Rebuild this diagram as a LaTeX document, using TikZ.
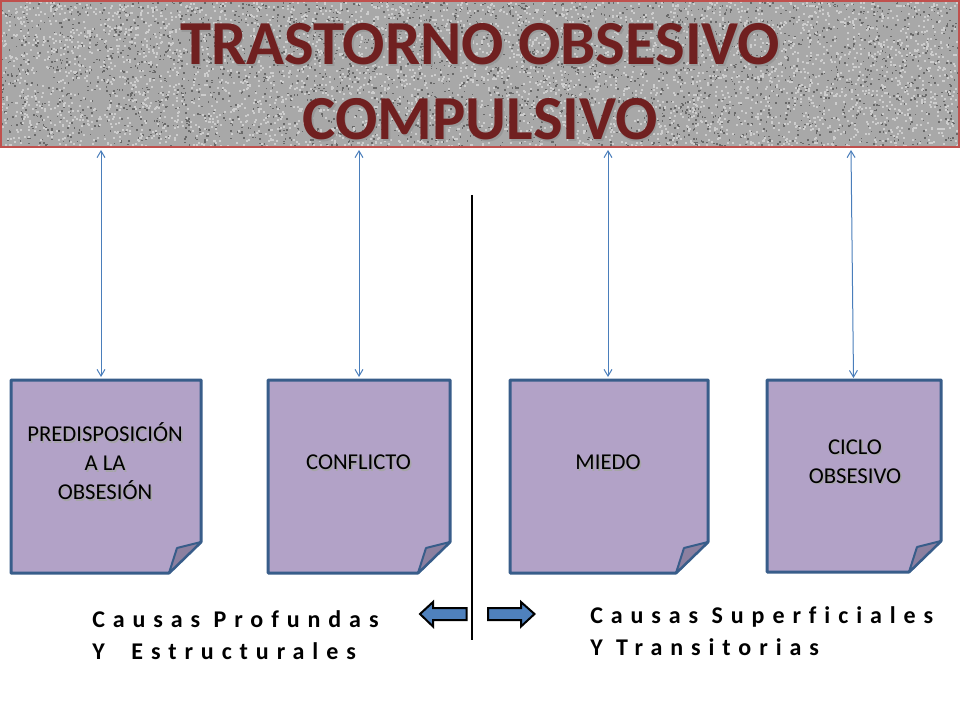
\documentclass[tikz,border=0pt]{standalone}
\usepackage{fontspec}
\setmainfont{Carlito}
\usetikzlibrary{arrows.meta}
\definecolor{bannergray}{RGB}{168,168,168}
\definecolor{noisedark}{RGB}{105,105,105}
\definecolor{noiselight}{RGB}{205,205,205}
\definecolor{bannerred}{RGB}{192,80,77}
\definecolor{titlered}{RGB}{112,32,32}
\definecolor{boxfill}{RGB}{178,162,199}
\definecolor{flapfill}{RGB}{140,128,160}
\definecolor{boxline}{RGB}{56,93,138}
\definecolor{linkblue}{RGB}{74,126,187}
\definecolor{arrowblue}{RGB}{79,129,189}
\newcommand\shdbox[1]{\leavevmode\rlap{\kern1.1pt\raisebox{-1.1pt}{\textcolor{black!35}{#1}}}#1}
\newcommand\shdtitle[1]{\leavevmode\rlap{\kern1.3pt\raisebox{-1.3pt}{\textcolor{black!40}{#1}}}#1}
\tikzset{
  boxarea/.style={inner sep=0pt,outer sep=0pt},
  boxshape/.style={fill=boxfill,draw=boxline,line width=2.25pt,line join=round},
  flapshape/.style={fill=flapfill,draw=boxline,line width=1.5pt,line join=round},
  boxtext/.style={font=\fontsize{17pt}{21.75pt}\selectfont,align=center,text=black,inner sep=0pt},
  link/.style={draw=linkblue,line width=0.75pt,{Straight Barb[length=5pt,width=6pt]}-{Straight Barb[length=5pt,width=6pt]}},
  titletext/.style={font=\fontsize{47pt}{56pt}\bfseries\selectfont,text=titlered,inner sep=0pt,anchor=base},
  causetext/.style={font=\fontsize{18pt}{22pt}\bfseries\addfontfeatures{LetterSpace=33,Ligatures=NoCommon}\selectfont,text=black,inner sep=0pt,anchor=base west},
  blockarrow/.style={fill=arrowblue,draw=black,line width=1.5pt,line join=miter},
}
\begin{document}
\begin{tikzpicture}[x=0.75pt,y=-0.75pt]
\useasboundingbox (0,0) rectangle (960,720);
\fill[white] (0,0) rectangle (960,720);
% banner
\node[boxarea,minimum width=718.5pt,minimum height=109.5pt] (banner) at (480,74.5) {};
\fill[bannergray] (banner.north west) rectangle (banner.south east);
\pgfmathsetseed{7}
\begin{scope}
\clip (banner.north west) rectangle (banner.south east);
\foreach \i in {1,...,3200}{
  \fill[noisedark] (960*rnd,150*rnd) rectangle +(1.6,1.6);
}
\foreach \i in {1,...,4200}{
  \fill[noiselight] (960*rnd,150*rnd) rectangle +(2,2);
}
\end{scope}
\draw[bannerred,line width=1.5pt] (banner.north west) rectangle (banner.south east);
\node[titletext] (title1) at (480,65) {\shdtitle{TRASTORNO OBSESIVO}};
\node[titletext] (title2) at (480,140) {\shdtitle{COMPULSIVO}};
% boxes
\node[boxarea,minimum width=142.5pt,minimum height=144.75pt] (b1) at (106,476.5) {};
\node[boxarea,minimum width=136.5pt,minimum height=144.75pt] (b2) at (359,476.5) {};
\node[boxarea,minimum width=148.5pt,minimum height=144.75pt] (b3) at (609,476.5) {};
\node[boxarea,minimum width=130.5pt,minimum height=144pt] (b4) at (854,476) {};
\foreach \b in {b1,b2,b3,b4}{
  \draw[boxshape] (\b.north west) -- (\b.north east) -- ([yshift=23.25pt]\b.south east)
     -- ([xshift=-24pt]\b.south east) -- (\b.south west) -- cycle;
  \draw[flapshape] ([xshift=-24pt]\b.south east) -- ([xshift=-18pt,yshift=18.75pt]\b.south east)
     -- ([yshift=23.25pt]\b.south east) -- cycle;
}
% box texts
\node[boxtext] (t1) at (105,462) {\shdbox{PREDISPOSICIÓN}\\\shdbox{A LA}\\\shdbox{OBSESIÓN}};
\node[boxtext] (t2) at (358.5,463) {\shdbox{CONFLICTO}};
\node[boxtext] (t3) at (608,463) {\shdbox{MIEDO}};
\node[boxtext] (t4) at (855,462) {\shdbox{CICLO}\\\shdbox{OBSESIVO}};
% link ends
\coordinate (a1t) at (101,150); \coordinate (a1b) at (101,377);
\coordinate (a2t) at (359,150); \coordinate (a2b) at (359,377);
\coordinate (a3t) at (608,150); \coordinate (a3b) at (608,377);
\coordinate (a4t) at (851,150); \coordinate (a4b) at (853.5,378);
\draw[link] (a1t) -- (a1b);
\draw[link] (a2t) -- (a2b);
\draw[link] (a3t) -- (a3b);
\draw[link] (a4t) -- (a4b);
% divider
\coordinate (dtop) at (472,195); \coordinate (dbot) at (472,640);
\draw[black,line width=0.9pt] (dtop) -- (dbot);
% block arrows
\draw[blockarrow] (420,614) -- (433,602) -- (433,608) -- (466.5,608) -- (466.5,620) -- (433,620) -- (433,626.5) -- cycle;
\draw[blockarrow] (534.5,614) -- (521,602) -- (521,608) -- (488,608) -- (488,620) -- (521,620) -- (521,626.5) -- cycle;
% cause texts
\node[causetext] (cl1) at (92,627) {Causas Profundas};
\node[causetext] (cl2) at (92,659) {Y\ \ Estructurales};
\node[causetext] (cr1) at (590,623) {Causas Superficiales};
\node[causetext] (cr2) at (590,655) {Y Transitorias};
\end{tikzpicture}
\end{document}
